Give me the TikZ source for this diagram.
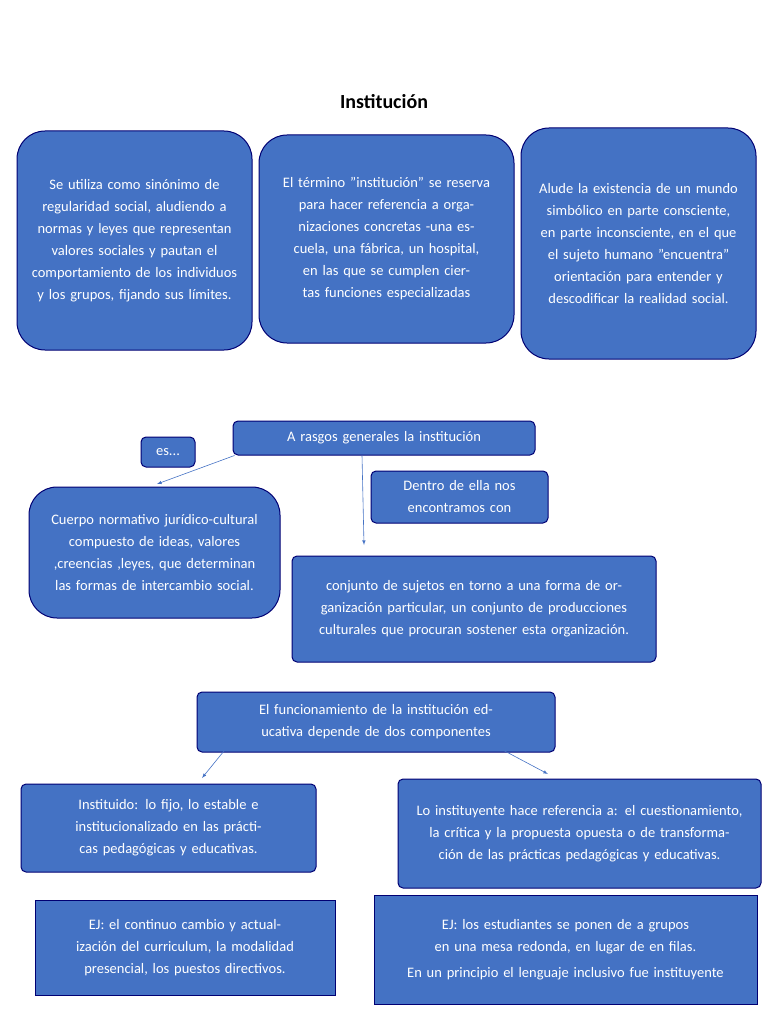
\documentclass[tikz,border=0pt]{standalone}
\usepackage{fontspec}
\setmainfont{Carlito}
\begin{document}
\begin{tikzpicture}[x=1pt,y=-1pt,
 bx/.style={draw=blue!45!black,line width=1pt,fill={rgb,255:red,68;green,114;blue,196},text=white,align=center,font=\fontsize{14.5}{22}\selectfont,inner sep=2pt},
 rbox/.style={bx,rounded corners=28pt},
 sbox/.style={bx,rounded corners=5pt},
 qbox/.style={bx,rounded corners=0pt},
 arr/.style={-latex,draw={rgb,255:red,68;green,114;blue,196},line width=0.6pt}]
\useasboundingbox (0,0) rectangle (768,1024);
\newcommand{\bxat}[6]{\node[#1,minimum width=#4-#2,minimum height=#5-#3,text width=#4-#2-24] (#6) at ({(#2+#4)/2},{(#3+#5)/2})}
\node[font=\fontsize{20}{24}\selectfont\bfseries] (title) at (384,102) {Institución};
\bxat{rbox}{17}{131}{252}{350}{b1}{Se utiliza como sinónimo de regularidad social, aludiendo a normas y leyes que representan valores sociales y pautan el comportamiento de los individuos y los grupos, fijando sus límites.};
\bxat{rbox}{259}{135}{514}{343}{b2}{El término "institución" se reserva para hacer referencia a organizaciones concretas -una escuela, una fábrica, un hospital, en las que se cumplen ciertas funciones especializadas};
\bxat{rbox}{521}{128}{756}{359}{b3}{Alude la existencia de un mundo simbólico en parte consciente, en parte inconsciente, en el que el sujeto humano "encuentra" orientación para entender y descodificar la realidad social.};
\bxat{sbox}{233}{421}{535}{455}{rasgos}{A rasgos generales la institución};
\bxat{sbox}{141}{437}{195}{467}{es}{es...};
\bxat{rbox}{29}{487}{280}{618}{cuerpo}{Cuerpo normativo jurídico-cultural compuesto de ideas, valores ,creencias ,leyes, que determinan las formas de intercambio social.};
\bxat{sbox}{371}{471}{548}{523}{dentro}{Dentro de ella nos encontramos con};
\bxat{sbox}{292}{556}{656}{662}{conj}{conjunto de sujetos en torno a una forma de organización particular, un conjunto de producciones culturales que procuran sostener esta organización.};
\bxat{sbox}{197}{692}{555}{752}{func}{El funcionamiento de la institución educativa depende de dos componentes};
\bxat{sbox}{21}{784}{316}{872}{inst}{Instituido: lo fijo, lo estable e institucionalizado en las prácticas pedagógicas y educativas.};
\bxat{sbox}{398}{779}{761}{888}{instye}{Lo instituyente hace referencia a: el cuestionamiento, la crítica y la propuesta opuesta o de transformación de las prácticas pedagógicas y educativas.};
\bxat{qbox}{35}{900}{335}{995}{ej1}{EJ: el continuo cambio y actualización del curriculum, la modalidad presencial, los puestos directivos.\\[14pt]};
\bxat{qbox}{374}{895}{757}{1004}{ej2}{EJ: los estudiantes se ponen de a grupos en una mesa redonda, en lugar de en filas.\\[4pt] En un principio el lenguaje inclusivo fue instituyente};
\coordinate (a1) at (157,484);
\coordinate (a2) at (364,545);
\coordinate (a3) at (202,778);
\coordinate (a4) at (548,774);
\draw[arr] ([xshift=2pt]rasgos.south west) -- (a1);
\draw[arr] ([xshift=-22pt]rasgos.south) -- (a2);
\draw[arr] ([xshift=-150pt,yshift=4pt]func.south) -- (a3);
\draw[arr] ([xshift=124pt,yshift=4pt]func.south) -- (a4);
\end{tikzpicture}
\end{document}
